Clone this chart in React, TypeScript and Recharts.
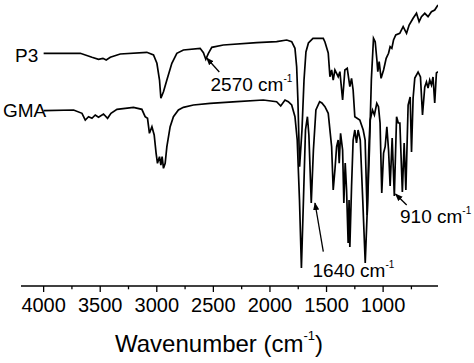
import { LineChart, Line, XAxis, YAxis } from 'recharts';

// FTIR spectra: wavenumber (cm-1) and relative transmittance (arbitrary units)
const p3Wavenumber = [
  4000, 3676, 3573, 3515, 3476, 3447, 3411, 3323, 3088, 3029, 2999, 2976, 2964, 2941, 2911, 2867, 2823, 2765,
  2617, 2588, 2567, 2544, 2514, 2412, 2117, 1941, 1852, 1808, 1779, 1764, 1753, 1738, 1717, 1699, 1682, 1660,
  1620, 1529, 1514, 1485, 1470, 1455, 1441, 1426, 1397, 1382, 1358, 1338, 1317, 1294, 1279, 1265, 1250, 1206,
  1176, 1159, 1141, 1121, 1104, 1085, 1070, 1055, 1047, 1035, 1018, 996, 973, 952, 938, 923, 908, 888, 853,
  823, 793, 770, 735, 705, 682, 661, 632, 603, 573, 544, 515,
];
const p3Transmittance = [
  232.7, 232.7, 228.7, 226.7, 227.7, 226, 228.7, 232, 233.7, 231, 222.7, 206, 187.7, 194.3, 206, 222.7, 232.7, 236,
  237.7, 233.3, 226.7, 232.7, 238.7, 241, 243.3, 244.3, 246, 244.3, 237.7, 219.3, 186, 119.3, 156, 206, 234, 243,
  247.7, 247.7, 244, 233, 209.3, 216, 206, 216, 209.3, 214.3, 186, 216, 217.7, 199.3, 207.7, 196, 169.3, 166,
  156, 146, 71, 136, 206, 247.7, 244.3, 226, 214.3, 224.3, 207.7, 216, 227.7, 232.7, 239.3, 237.7, 246, 251, 252.7,
  259.3, 252.7, 261, 267.7, 272.7, 264.3, 269.3, 272.7, 269.3, 274.3, 276, 281,
];

const gmaWavenumber = [
  4000, 3735, 3661, 3632, 3603, 3573, 3544, 3515, 3471, 3435, 3405, 3352, 3206, 3132, 3103, 3082, 3065, 3043,
  3023, 3006, 2994, 2976, 2964, 2953, 2941, 2926, 2911, 2882, 2853, 2809, 2765, 2676, 2529, 2293, 2059, 1941,
  1905, 1867, 1838, 1808, 1779, 1759, 1739, 1722, 1704, 1686, 1669, 1656, 1635, 1616, 1594, 1561, 1541, 1514,
  1485, 1455, 1441, 1426, 1411, 1397, 1388, 1376, 1358, 1347, 1335, 1323, 1309, 1301, 1294, 1279, 1265, 1250,
  1235, 1221, 1202, 1180, 1158, 1140, 1127, 1115, 1094, 1077, 1056, 1041, 1027, 1012, 996, 982, 967, 952, 938,
  920, 901, 881, 866, 852, 830, 814, 799, 779, 761, 749, 735, 720, 691, 670, 652, 632, 617, 603, 588, 573, 559,
  544, 529, 515,
];
const gmaTransmittance = [
  175.3, 176, 172.7, 166, 169.3, 167.7, 171, 168.7, 172, 167.7, 172.7, 176.7, 178.7, 176.7, 169.3, 167.7, 152.7, 159.3,
  151, 132.7, 122.7, 129.3, 121, 129.3, 117.7, 122.7, 139.3, 159.3, 169.3, 176, 178.7, 181, 182.7, 184.3, 186, 184.3,
  180, 186, 184.3, 181, 169.3, 146, 86, 18, 86, 156, 169.3, 151, 83, 136, 176, 184.3, 183, 179.3,
  172.7, 139.3, 96, 116, 139.3, 146, 122.7, 152.7, 136, 83, 123, 96, 43, 86, 39, 99.3, 146, 156,
  143, 156, 146, 86, 23, 76, 136, 166, 176, 171, 182.7, 179.3, 163, 93, 133, 139.3, 159.3, 136, 100,
  148, 90, 169.3, 163, 163, 94, 143, 96, 181, 189, 134, 188, 208, 214, 209, 171, 199, 204, 198, 206, 201,
  209, 183, 213, 214.3,
];

const majorTicks = [4000, 3500, 3000, 2500, 2000, 1500, 1000];
const minorTicks = [3750, 3250, 2750, 2250, 1750, 1250, 750];

const p3Data = p3Wavenumber.map((w, i) => ({ w, v: p3Transmittance[i] }));
const gmaData = gmaWavenumber.map((w, i) => ({ w, v: gmaTransmittance[i] }));

const FONT = 'Arial, "Liberation Sans", Helvetica, sans-serif';

const AxisTick = (props: any) => {
  const { x, y, payload } = props;
  const major = majorTicks.includes(payload.value);
  return (
    <g>
      <line x1={x} x2={x} y1={y} y2={y + (major ? 6 : 3.3)} stroke="#000" strokeWidth={1.3} />
      {major && (
        <text x={x} y={y + 26} textAnchor="middle" fontSize={20} fontFamily={FONT} fill="#000">
          {payload.value}
        </text>
      )}
    </g>
  );
};

const Peak = ({ x, y, value, tip, tail, size = 19, sup = 10 }: any) => (
  <g>
    <text x={x} y={y} fontSize={size} fontFamily={FONT} fill="#000">
      {value} cm
      <tspan fontSize={sup} dy={-9}>-1</tspan>
    </text>
    <line x1={tail[0]} y1={tail[1]} x2={tip[0]} y2={tip[1]} stroke="#000" strokeWidth={1.3} markerEnd="url(#arrowHead)" />
  </g>
);

export default function App() {
  return (
    <div style={{ position: 'absolute', left: 0, top: 0, background: '#fff' }}>
      <LineChart width={474} height={363} margin={{ top: 0, right: 36, bottom: 0, left: 21 }}>
        <defs>
          <marker id="arrowHead" viewBox="0 0 10 10" refX="9" refY="5" markerWidth="6" markerHeight="6" orient="auto">
            <path d="M0,1 L10,5 L0,9 z" fill="#000" />
          </marker>
        </defs>
        <XAxis
          dataKey="w"
          type="number"
          domain={[515, 4200]}
          reversed
          allowDataOverflow
          ticks={[...majorTicks, ...minorTicks].sort((a, b) => b - a)}
          interval={0}
          height={77}
          tickLine={false}
          tickSize={0}
          tickMargin={0}
          axisLine={{ stroke: '#000', strokeWidth: 1.5 }}
          tick={<AxisTick />}
          label={{
            content: () => (
              <text x={115} y={352} fontSize={24} fontFamily={FONT} fill="#000">
                Wavenumber (cm
                <tspan fontSize={13} dy={-12}>-1</tspan>
                <tspan dy={12}>)</tspan>
              </text>
            ),
          }}
        />
        <YAxis hide type="number" domain={[0, 286]} allowDataOverflow />
        <Line data={p3Data} dataKey="v" type="linear" stroke="#000" strokeWidth={1.7} dot={false} isAnimationActive={false} />
        <Line data={gmaData} dataKey="v" type="linear" stroke="#000" strokeWidth={1.7} dot={false} isAnimationActive={false} />
        <g>
          <text x={15} y={62} fontSize={19} fontFamily={FONT} fill="#000">P3</text>
          <text x={3} y={117} fontSize={19} fontFamily={FONT} fill="#000">GMA</text>
          <Peak x={210.5} y={90.5} value={2570} tip={[206.7, 58]} tail={[219.3, 72]} />
          <Peak x={312.5} y={276.5} value={1640} tip={[315, 203]} tail={[323.3, 251.7]} />
          <Peak x={400} y={223} value={910} tip={[395.5, 194]} tail={[406.7, 205]} />
        </g>
      </LineChart>
    </div>
  );
}
